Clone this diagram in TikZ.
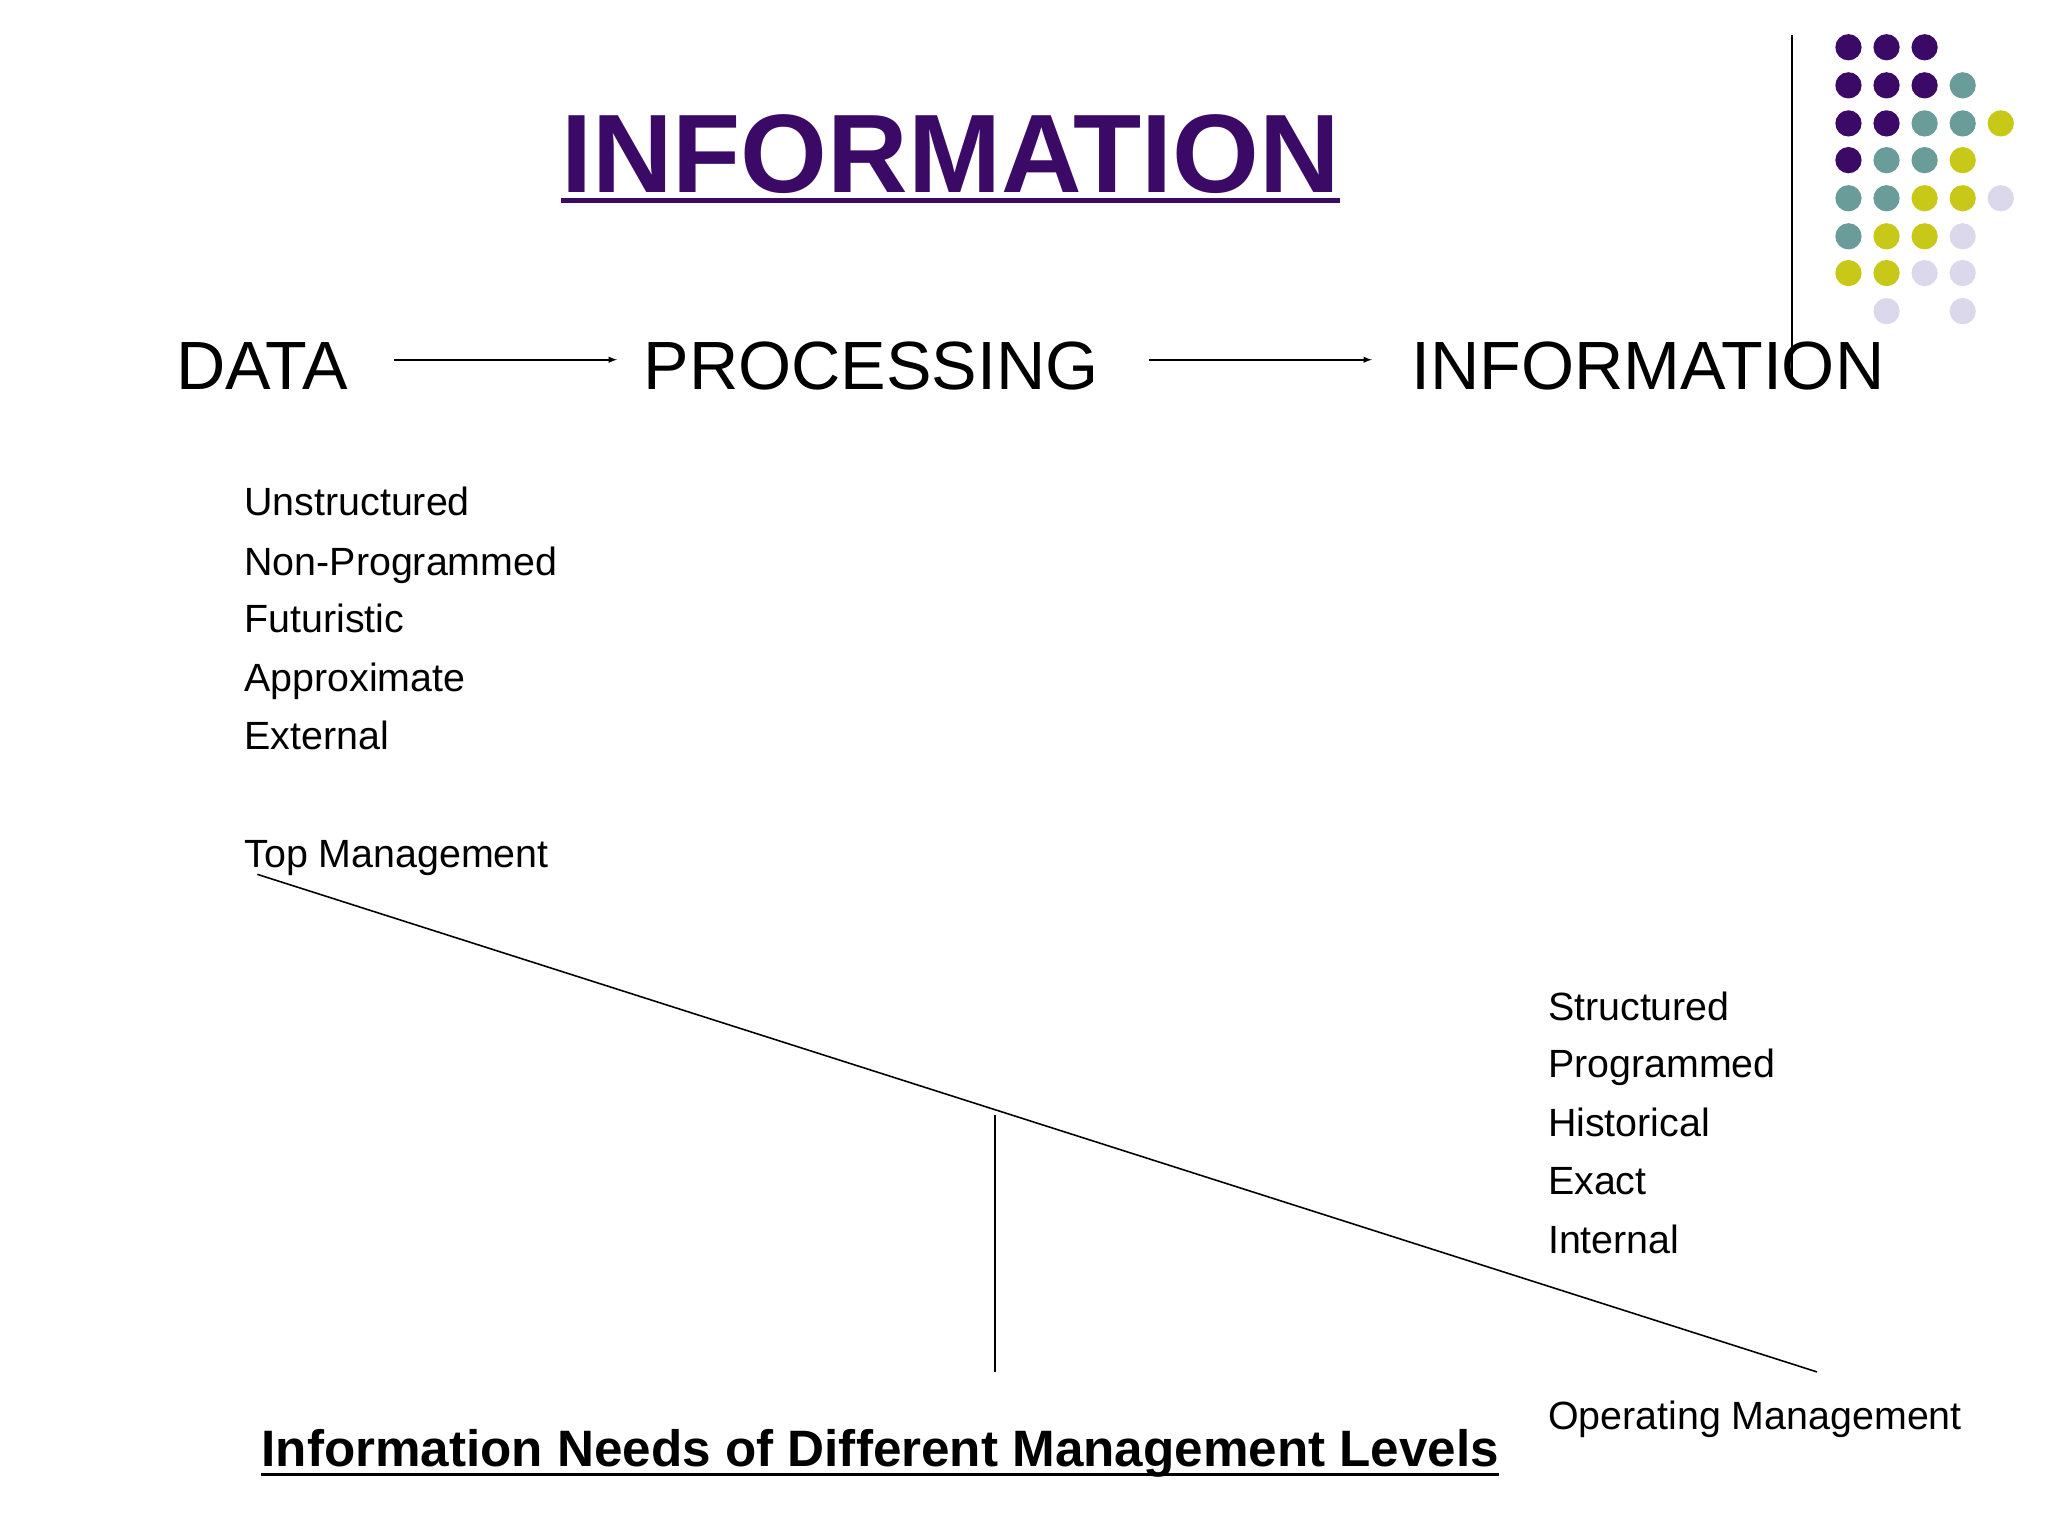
\documentclass[tikz,border=0pt]{standalone}
\usepackage{fontspec}
\setmainfont{Liberation Sans}
\definecolor{pur}{HTML}{3A0A66}
\definecolor{tea}{HTML}{6A9C9A}
\definecolor{yel}{HTML}{C8C818}
\definecolor{lav}{HTML}{DCD8EC}
\tikzset{
 txt/.style={anchor=base west,inner sep=0pt,font=\fontsize{30}{30}\selectfont},
 big/.style={anchor=base west,inner sep=0pt,font=\fontsize{52}{52}\selectfont},
 flow/.style={-latex,line width=1.2pt},
 thin/.style={line width=1.2pt},
 dot/.style={circle,inner sep=0pt,minimum size=20pt}
}
\begin{document}
\begin{tikzpicture}[x=1pt,y=-1pt]
\useasboundingbox (0,0) rectangle (1560,1170);
\node[anchor=base,inner sep=0pt,text=pur,font=\fontsize{85}{85}\selectfont\bfseries] (title) at (724,147) {INFORMATION};
\draw[pur,line width=4pt] ([yshift=-6pt]title.base west) -- ([yshift=-6pt]title.base east);
\node[big] (data) at (134,297) {DATA};
\node[big] (proc) at (490,297) {PROCESSING};
\node[big] (info) at (1075,297) {INFORMATION};
\coordinate (a1) at (300,274); \coordinate (a2) at (470,274);
\coordinate (b1) at (875,274); \coordinate (b2) at (1045,274);
\draw[flow] (a1) -- (a2);
\draw[flow] (b1) -- (b2);
\node[txt] (l1) at (186,393) {Unstructured};
\node[txt] (l2) at (186,438) {Non-Programmed};
\node[txt] (l3) at (186,482) {Futuristic};
\node[txt] (l4) at (186,527) {Approximate};
\node[txt] (l5) at (186,571) {External};
\node[txt] (top) at (186,661) {Top Management};
\node[txt] (r1) at (1179,777) {Structured};
\node[txt] (r2) at (1179,821) {Programmed};
\node[txt] (r3) at (1179,866) {Historical};
\node[txt] (r4) at (1179,910) {Exact};
\node[txt] (r5) at (1179,955) {Internal};
\node[txt] (op) at (1179,1089) {Operating Management};
\node[anchor=base west,inner sep=0pt,font=\fontsize{39}{39}\selectfont\bfseries] (cap) at (199,1117) {Information Needs of Different Management Levels};
\draw[line width=2.5pt] ([yshift=-6pt]cap.base west) -- ([yshift=-6pt]cap.base east);
\coordinate (s1) at (196,666); \coordinate (s2) at (1384,1045);
\coordinate (v1) at (758,849); \coordinate (v2) at (758,1045);
\draw[thin] (s1) -- (s2);
\draw[thin] (v1) -- (v2);
\coordinate (d1) at (1365,27); \coordinate (d2) at (1365,290);
\draw[line width=1.5pt] (d1) -- (d2);
\foreach \x/\y/\c in {1408/36/pur,1437/36/pur,1466/36/pur,
 1408/65/pur,1437/65/pur,1466/65/pur,1495/65/tea,
 1408/94/pur,1437/94/pur,1466/94/tea,1495/94/tea,1524/94/yel,
 1408/122/pur,1437/122/tea,1466/122/tea,1495/122/yel,
 1408/151/tea,1437/151/tea,1466/151/yel,1495/151/yel,1524/151/lav,
 1408/180/tea,1437/180/yel,1466/180/yel,1495/180/lav,
 1408/208/yel,1437/208/yel,1466/208/lav,1495/208/lav,
 1437/237/lav,1495/237/lav}
 \node[dot,fill=\c] at (\x,\y) {};
\end{tikzpicture}
\end{document}
